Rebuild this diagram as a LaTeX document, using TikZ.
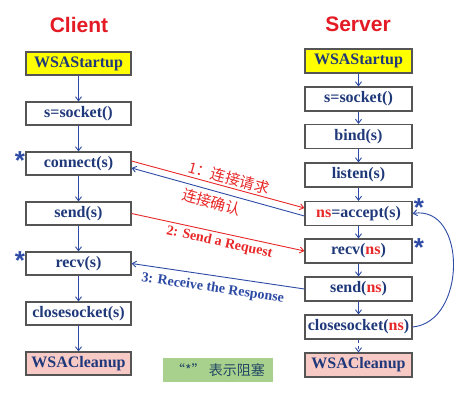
\documentclass[tikz,border=0pt]{standalone}
\usepackage{fontspec}
\setmainfont{Liberation Serif}
\newfontfamily\titlefont{Liberation Sans}
\newfontfamily\cjk{Noto Sans CJK SC}
\usepackage{xcolor}
\usetikzlibrary{positioning, arrows.meta}

\definecolor{boxtext}{RGB}{31,56,122}
\definecolor{boxborder}{RGB}{85,85,85}
\definecolor{flowblue}{RGB}{45,75,165}
\definecolor{flowred}{RGB}{232,40,40}
\definecolor{titlered}{RGB}{228,26,36}
\definecolor{startyellow}{RGB}{255,255,0}
\definecolor{cleanpink}{RGB}{248,202,198}
\definecolor{legendgreen}{RGB}{169,209,142}
\definecolor{legendtext}{RGB}{35,72,100}

\begin{document}
\begin{tikzpicture}[x=1pt, y=-1pt,
    call/.style={rectangle, draw=boxborder, line width=1.1pt, inner sep=0pt, minimum height=23pt, align=center, text=boxtext, font=\fontsize{16}{16}\selectfont\bfseries},
    client/.style={call, minimum width=105pt},
    server/.style={call, minimum width=107pt, minimum height=24pt},
    title/.style={text=titlered, font=\titlefont\fontsize{21}{21}\selectfont\bfseries},
    blockstar/.style={text=flowblue, inner sep=0pt, font=\titlefont\fontsize{26}{26}\selectfont\bfseries},
    legend/.style={rectangle, fill=legendgreen, minimum width=110pt, minimum height=24pt, text=legendtext, font=\cjk\fontsize{14}{14}\selectfont},
    flow/.style={draw=flowblue, line width=0.9pt, -{Straight Barb[length=4pt, width=6pt]}},
    request/.style={draw=flowred, line width=0.9pt, -{Straight Barb[length=4pt, width=6pt]}},
    msg/.style={sloped, inner sep=1pt, font=\fontsize{14}{14}\selectfont\bfseries},
    cjkmsg/.style={sloped, inner sep=1pt, text=flowred, font=\cjk\fontsize{15}{15}\selectfont}
]
    \useasboundingbox[fill=white] (0,0) rectangle (474,409);

    % Titles
    \node[title] (clienttitle) at (79,25) {Client};
    \node[title] (servertitle) at (358,24) {Server};

    % Client calls
    \node[client, fill=startyellow] (cstart) at (78.5,63.5) {WSAStartup};
    \node[client] (csocket) at (78.5,113.5) {s=socket()};
    \node[client] (cconnect) at (78.5,163.5) {connect(s)};
    \node[client] (csend) at (78.5,213.5) {send(s)};
    \node[client] (crecv) at (78.5,263.5) {recv(s)};
    \node[client] (cclose) at (78.5,313.5) {closesocket(s)};
    \node[client, fill=cleanpink] (cclean) at (78.5,363.5) {WSACleanup};

    % Server calls
    \node[server, fill=startyellow] (sstart) at (358.5,61) {WSAStartup};
    \node[server] (ssocket) at (358.5,99) {s=socket()};
    \node[server] (sbind) at (358.5,136.5) {bind(s)};
    \node[server] (slisten) at (358.5,175) {listen(s)};
    \node[server] (saccept) at (358.5,213.5) {\textcolor{flowred}{ns}=accept(s)};
    \node[server] (srecv) at (358.5,251) {recv(\textcolor{flowred}{ns})};
    \node[server] (ssend) at (358.5,289) {send(\textcolor{flowred}{ns})};
    \node[server] (sclose) at (358.5,327) {closesocket(\textcolor{flowred}{ns})};
    \node[server, fill=cleanpink] (sclean) at (358.5,365) {WSACleanup};

    % Blocking marks
    \node[blockstar] (starconnect) at (20,161) {*};
    \node[blockstar] (starrecv) at (20,261) {*};
    \node[blockstar] (staraccept) at (419,208) {*};
    \node[blockstar] (starsrecv) at (419,248) {*};

    % Legend
    \node[legend] (note) at (218,370) {“*” 表示阻塞};

    % Client flow
    \draw[flow] (cstart) -- (csocket);
    \draw[flow] (csocket) -- (cconnect);
    \draw[flow] (cconnect) -- (csend);
    \draw[flow] (csend) -- (crecv);
    \draw[flow] (crecv) -- (cclose);
    \draw[flow] (cclose) -- (cclean);

    % Server flow
    \draw[flow] (sstart) -- (ssocket);
    \draw[flow] (ssocket) -- (sbind);
    \draw[flow] (sbind) -- (slisten);
    \draw[flow] (slisten) -- (saccept);
    \draw[flow] (saccept) -- (srecv);
    \draw[flow] (srecv) -- (ssend);
    \draw[flow] (ssend) -- (sclose);
    \draw[flow, dashed] (sclose) -- (sclean);
    \draw[flow] (sclose.east) .. controls (467,322) and (467,205) .. (saccept.east);

    % Messages
    \draw[request] ([yshift=2.5pt]cconnect.east) -- ([yshift=5.5pt]saccept.west)
        node[cjkmsg, pos=0.55, above=1pt] {1：连接请求};
    \draw[flow] ([yshift=-2.5pt]saccept.west) -- ([yshift=-4.5pt]cconnect.east)
        node[cjkmsg, pos=0.52, below=3pt] {连接确认};
    \draw[request] (csend.east) -- (srecv.west)
        node[msg, text=flowred, pos=0.52, below=2pt] {2: Send a Request};
    \draw[flow] (ssend.west) -- (crecv.east)
        node[msg, text=flowblue, pos=0.52, below=5pt] {3: Receive the Response};

\end{tikzpicture}
\end{document}
